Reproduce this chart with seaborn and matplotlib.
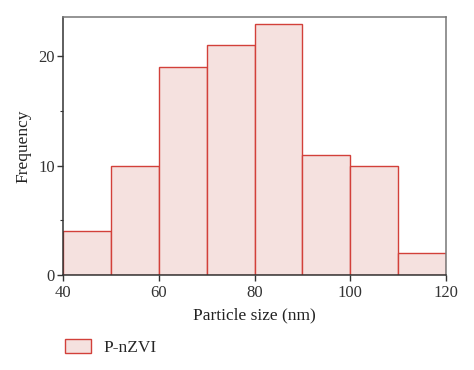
import matplotlib
matplotlib.use("Agg")
import matplotlib.pyplot as plt
import seaborn as sns
import numpy as np
from matplotlib.ticker import MultipleLocator

# Histogram
bin_edges = [40, 50, 60, 70, 80, 90, 100, 110, 120]
counts = [4, 10, 19, 21, 23, 11, 10, 2]
series_name = "P-nZVI"

centers = [(a + b) / 2 for a, b in zip(bin_edges[:-1], bin_edges[1:])]

sns.set_theme(style="white")
plt.rcParams['font.family'] = ['Liberation Serif', 'DejaVu Serif']

fig = plt.figure(figsize=(4.74, 3.70), dpi=100)
ax = fig.add_axes([0.133, 0.257, 0.808, 0.697])

sns.histplot(x=centers, weights=counts, bins=bin_edges, ax=ax,
             color="#f5e1df", edgecolor="#d2403a", linewidth=1.0, alpha=1,
             label=series_name)

ax.set_xlim(40, 120)
ax.set_ylim(0, 23.6)
ax.xaxis.set_major_locator(MultipleLocator(20))
ax.yaxis.set_major_locator(MultipleLocator(10))
ax.yaxis.set_minor_locator(MultipleLocator(5))
ax.tick_params(axis='both', which='major', direction='out', length=4, width=1,
               labelsize=12, colors='#333333', bottom=True, left=True, pad=2)
ax.tick_params(axis='x', which='major', pad=3)
ax.tick_params(axis='y', which='minor', direction='out', length=2.5, width=0.8,
               left=True, color='#333333')

for s in ['left', 'bottom']:
    ax.spines[s].set_color('#333333')
    ax.spines[s].set_linewidth(1.1)
for s in ['top', 'right']:
    ax.spines[s].set_color('#777777')
    ax.spines[s].set_linewidth(1.1)

ax.set_xlabel('Particle size (nm)', fontsize=12.5, color='#222222', labelpad=5)
ax.set_ylabel('Frequency', fontsize=12.5, color='#222222', labelpad=5)

fig.legend(loc='lower left', bbox_to_anchor=(0.105, -0.005), frameon=False,
           fontsize=12.5, handlelength=1.5, handleheight=0.9, handletextpad=0.7)

plt.savefig('out.png', dpi=100)
